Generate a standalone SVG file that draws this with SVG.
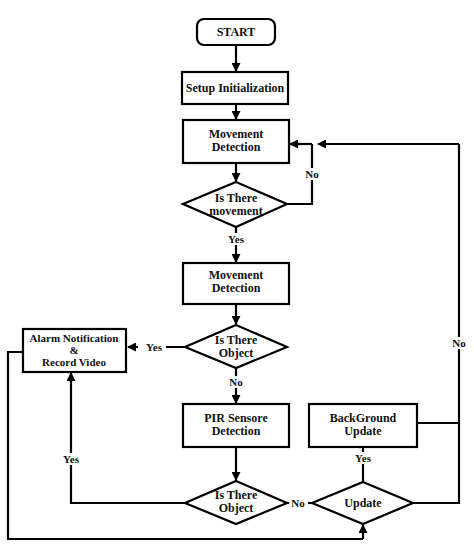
<svg xmlns="http://www.w3.org/2000/svg" width="474" height="555" viewBox="0 0 474 555">
<defs>
<marker id="ah" markerWidth="9" markerHeight="9" refX="8" refY="4.5" orient="auto" markerUnits="userSpaceOnUse">
<path d="M0,0 L9,4.5 L0,9 Z" fill="#000"/>
</marker>
<style>
.s{fill:#fff;stroke:#000;stroke-width:2.2}
.c{fill:none;stroke:#000;stroke-width:2.2}
.a{marker-end:url(#ah)}
text{font-family:"Liberation Serif",serif;font-weight:bold;font-size:12px;fill:#111;text-anchor:middle}
text.t{font-size:11px}
text.m{font-size:11px}
.l{fill:#fff}
</style>
</defs>
<rect width="474" height="555" fill="#fff"/>
<g id="connectors">
<path class="c a" d="M236,45 V71"/>
<path class="c a" d="M236,104 V119"/>
<path class="c a" d="M236,163 V181"/>
<path class="c" d="M287,204 H312 V144"/>
<path class="c a" d="M312,144 H290"/>
<path class="c a" d="M459,144 H318"/>
<path class="c a" d="M236,227 V262"/>
<path class="c a" d="M236,304 V324"/>
<path class="c a" d="M185,347 H128"/>
<path class="c a" d="M236,367 V403"/>
<path class="c a" d="M236,447 V480"/>
<path class="c a" d="M185,503 H71 V373"/>
<path class="c" d="M23,352 H8 V539 H363"/>
<path class="c a" d="M363,539 V525"/>
<path class="c" d="M287,503 H312"/>
<path class="c" d="M363,482 V447"/>
<path class="c" d="M417,423 H459"/>
<path class="c" d="M413,503 H459 V144"/>
<rect class="l" x="225" y="233" width="22" height="12"/>
<text class="t" x="236" y="243">Yes</text>
<rect class="l" x="303" y="168" width="18" height="12"/>
<text class="t" x="312" y="178">No</text>
<rect class="l" x="138" y="341" width="28" height="12"/>
<text class="t" x="154" y="351">Yes</text>
<rect class="l" x="227" y="376" width="18" height="12"/>
<text class="t" x="236" y="386">No</text>
<rect class="l" x="60" y="453" width="22" height="12"/>
<text class="t" x="71" y="463">Yes</text>
<rect class="l" x="289" y="497" width="19" height="12"/>
<text class="t" x="298" y="507">No</text>
<rect class="l" x="352" y="452" width="22" height="12"/>
<text class="t" x="363" y="462">Yes</text>
<rect class="l" x="450" y="337" width="18" height="12"/>
<text class="t" x="459" y="347">No</text>
</g>
<g id="start">
<rect class="s" x="197" y="19" width="78" height="26" rx="7"/>
<text x="236" y="36">START</text>
</g>
<g id="setup">
<rect class="s" x="182" y="72" width="106" height="32"/>
<text x="235" y="92">Setup Initialization</text>
</g>
<g id="md1">
<rect class="s" x="183" y="120" width="106" height="43"/>
<text x="236" y="138">Movement</text>
<text x="236" y="151">Detection</text>
</g>
<g id="dmove">
<polygon class="s" points="236,182 287,204 236,227 183,204"/>
<text x="236" y="202">Is There</text>
<text x="236" y="215">movement</text>
</g>
<g id="md2">
<rect class="s" x="183" y="263" width="106" height="41"/>
<text x="236" y="279">Movement</text>
<text x="236" y="292">Detection</text>
</g>
<g id="dobj1">
<polygon class="s" points="236,325 287,347 236,368 185,347"/>
<text x="236" y="344">Is There</text>
<text x="236" y="357">Object</text>
</g>
<g id="alarm">
<rect class="s" x="23" y="329" width="103" height="43"/>
<text class="m" x="74" y="342">Alarm Notification</text>
<text class="m" x="74" y="354">&amp;</text>
<text class="m" x="74" y="366">Record  Video</text>
</g>
<g id="pir">
<rect class="s" x="183" y="404" width="106" height="43"/>
<text x="236" y="422">PIR Sensore</text>
<text x="236" y="435">Detection</text>
</g>
<g id="dobj2">
<polygon class="s" points="236,481 287,503 236,524 185,503"/>
<text x="236" y="499">Is There</text>
<text x="236" y="512">Object</text>
</g>
<g id="bg">
<rect class="s" x="309" y="404" width="108" height="43"/>
<text x="363" y="422">BackGround</text>
<text x="363" y="435">Update</text>
</g>
<g id="update">
<polygon class="s" points="363,482 413,503 363,524 312,503"/>
<text x="363" y="507">Update</text>
</g>
</svg>
